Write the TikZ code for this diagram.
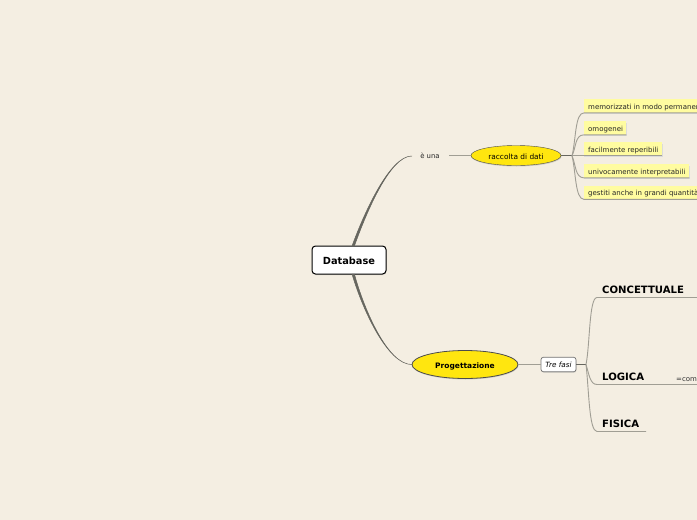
\documentclass[tikz,border=0pt]{standalone}
\usepackage{fontspec}
\setmainfont{DejaVu Sans}
\usetikzlibrary{shadows,shapes.geometric}
\definecolor{bg}{HTML}{F4EEE2}
\definecolor{leafy}{HTML}{FFFCA0}
\definecolor{ell}{HTML}{FFE60F}
\definecolor{lin}{HTML}{A09E94}
\definecolor{branch}{HTML}{66665F}
\tikzset{
 x=1pt,y=-1pt,
 leafbox/.style={fill=leafy,anchor=north west,inner ysep=0pt,inner xsep=4pt,minimum height=13.5pt,text height=7pt,text depth=0pt,text=black!85,font=\fontsize{7}{8}\selectfont},
 leafline/.style={draw=lin,line width=0.9pt},
 hubline/.style={draw=branch,line width=1.2pt},
 taper/.style={fill=branch,draw=branch,line width=0.5pt,line join=round},
 phase/.style={anchor=base west,inner sep=0pt,font=\fontsize{10.1}{12}\selectfont\bfseries,text=black},
 pill/.style={ellipse,draw=black!70,fill=ell,inner sep=0pt,text height=7.6pt,text depth=0pt,drop shadow={opacity=0.3,shadow xshift=0.5pt,shadow yshift=-1pt}},
}
\begin{document}
\begin{tikzpicture}
\useasboundingbox (0,0) rectangle (697,520);
\fill[bg] (0,0) rectangle (697,520);
% nodes
\node[draw=black,line width=1pt,rounded corners=3.5pt,fill=white,minimum width=74pt,minimum height=28pt,inner sep=0pt,text height=8pt,text depth=0pt,font=\fontsize{9.8}{11}\selectfont\bfseries,drop shadow={opacity=0.25,shadow xshift=0.5pt,shadow yshift=-1pt}] (db) at (349,260) {Database};
\node[inner sep=0pt,font=\fontsize{6.9}{8}\selectfont,text=black!85,minimum width=36pt,minimum height=12pt] (una) at (430,156) {è una};
\node[pill,minimum width=90pt,minimum height=20pt,font=\fontsize{7.4}{8}\selectfont] (racc) at (516,155.5) {raccolta di dati};
\node[pill,line width=0.8pt,minimum width=106pt,minimum height=28pt,font=\fontsize{7.5}{8}\selectfont\bfseries] (prog) at (465,364.5) {Progettazione};
\node[draw=black!55,line width=0.7pt,rounded corners=2.5pt,fill=white,minimum width=35pt,minimum height=14.5pt,inner sep=0pt,text height=5.6pt,text depth=0pt,font=\fontsize{7.2}{8}\selectfont\itshape,drop shadow={opacity=0.25,shadow xshift=0.5pt,shadow yshift=-1pt}] (tre) at (558.5,364.5) {Tre fasi};
% hubs
\coordinate (hubA) at (572,155.8);
\coordinate (hubB) at (586,364.5);
\coordinate (unaR) at (449,155.8);
% leaves
\foreach \n/\y/\w/\t in {a/99/140/memorizzati in modo permanente,b/121/42/omogenei,c/142/78/facilmente reperibili,d/164/105/univocamente interpretabili,e/185.5/140/gestiti anche in grandi quantità}{
  \fill[black!14] (584,\y+2) rectangle (584+\w+0.6,\y+14.6);
  \node[leafbox,minimum width=\w pt] (\n) at (584,\y) {\makebox[\dimexpr\w pt-8pt\relax][l]{\t}};
}
% phases
\coordinate (cEnd) at (697,297.5);
\coordinate (lEnd) at (697,384.5);
\coordinate (fEnd) at (646,431.5);
\node[phase] (conc) at (602,293.3) {CONCETTUALE};
\node[phase] (logi) at (602,380.3) {LOGICA};
\node[phase] (fisi) at (602,427.3) {FISICA};
\node[anchor=base west,inner sep=0pt,font=\fontsize{7}{8}\selectfont,text=black!80] (com) at (676,381) {=com};
% connectors (tapered main branches)
\coordinate (dbT1) at (352,246);
\coordinate (dbT2) at (354.4,246);
\coordinate (dbB1) at (352,274);
\coordinate (dbB2) at (354.4,274);
\path[taper] (dbT1) .. controls (364.6,211.6) and (390,156) .. (una.west) .. controls (390,156) and (366.4,212.4) .. (dbT2) -- cycle;
\path[taper] (dbB1) .. controls (362.6,310.4) and (388,364.5) .. (prog.west) .. controls (388,364.5) and (364.4,310.6) .. (dbB2) -- cycle;
\draw[leafline] (unaR) -- (racc.west |- unaR);
\draw[leafline] (prog.east) -- (tre.west);
\draw[hubline] (racc.east |- hubA) -- (hubA);
\draw[hubline] (tre.east) -- (hubB);
\draw[leafline] (hubA) .. controls (576,140) and (575,112.5) .. (a.south west) -- (a.south east);
\draw[leafline] (hubA) .. controls (576,148) and (575,134.5) .. (b.south west) -- (b.south east);
\draw[leafline] (hubA) -- (c.west |- hubA);
\draw[leafline] (c.south west) -- (c.south east);
\draw[leafline] (hubA) .. controls (576,165) and (575,177.5) .. (d.south west) -- (d.south east);
\draw[leafline] (hubA) .. controls (576,172) and (575,199) .. (e.south west) -- (e.south east);
\draw[leafline] (hubB) .. controls (590,345) and (589,297.5) .. (597,297.5) -- (cEnd);
\draw[leafline] (hubB) .. controls (589,374) and (590,384.5) .. (597,384.5) -- (lEnd);
\draw[leafline] (hubB) .. controls (589,390) and (589,431.5) .. (597,431.5) -- (fEnd);
\end{tikzpicture}
\end{document}
